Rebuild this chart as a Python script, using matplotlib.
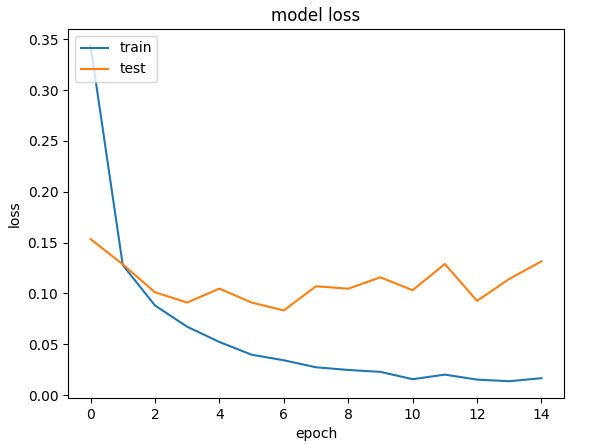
import matplotlib
matplotlib.use('Agg')
from matplotlib import pyplot as plt

# loss per epoch
train_loss = [0.3436, 0.1280, 0.0882, 0.0673, 0.0523, 0.0398, 0.0343, 0.0274,
              0.0248, 0.0229, 0.0157, 0.0202, 0.0153, 0.0137, 0.0167]
test_loss = [0.1535, 0.1287, 0.1012, 0.0911, 0.1048, 0.0911, 0.0833, 0.1071,
             0.1047, 0.1159, 0.1032, 0.1290, 0.0927, 0.1143, 0.1316]
legend_labels = ['train', 'test']

plt.figure(figsize=(5.98, 4.44), dpi=100)
plt.subplots_adjust(left=68/598, right=564/598, top=1-29/444, bottom=1-398/444)
plt.plot(train_loss)
plt.plot(test_loss)
plt.title('model loss')
plt.ylabel('loss')
plt.xlabel('epoch')
plt.legend(legend_labels, loc='upper left')
plt.savefig('out.png', dpi=100)
